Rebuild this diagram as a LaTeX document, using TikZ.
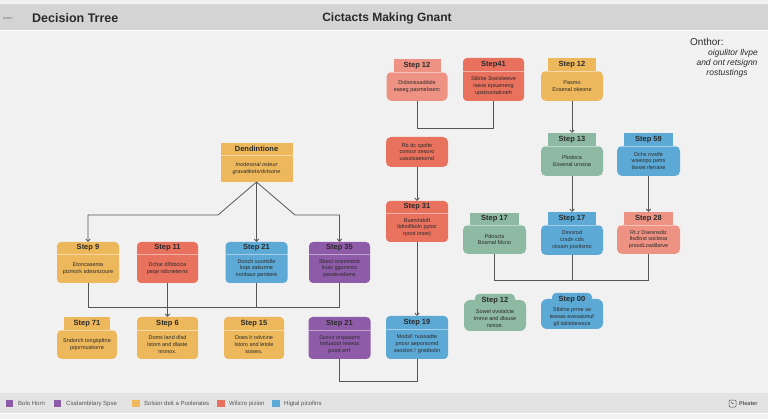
\documentclass[tikz,border=0pt]{standalone}
\usepackage{fontspec}
\setmainfont{Liberation Sans}
\usetikzlibrary{arrows.meta,calc}
\definecolor{bgc}{HTML}{F1F1F1}
\definecolor{hdr}{HTML}{D4D4D4}
\definecolor{ftr}{HTML}{E3E3E3}
\definecolor{cyel}{HTML}{EDB85C}
\definecolor{cred}{HTML}{E8725E}
\definecolor{csal}{HTML}{EE9383}
\definecolor{cblu}{HTML}{5DA9D5}
\definecolor{cpur}{HTML}{8E5BA8}
\definecolor{cgrn}{HTML}{8EB9A2}
\definecolor{lnc}{HTML}{555555}
\definecolor{txc}{HTML}{2A2A2A}

\tikzset{
 titletext/.style={font=\bfseries\fontsize{7.5}{8}\selectfont, text=txc, inner sep=0},
 bodytext/.style={font=\fontsize{5.5}{6.8}\selectfont, text=txc, align=center, inner sep=0},
 sepline/.style={draw=white, draw opacity=0.45, line width=0.6pt},
 conn/.style={draw=lnc, line width=0.8pt},
 arr/.style={-{Straight Barb[length=2.5pt,width=4.5pt]}},
 frame/.style={inner sep=0, outer sep=0},
 legtext/.style={font=\fontsize{6}{7}\selectfont, text=txc!80, anchor=west, inner sep=0},
 legsq/.style={inner sep=0, minimum size=7.5pt},
}

% name, cx, top, w, h, header h, colour, title, body
\newcommand{\FullBox}[9]{%
 \node[frame, fill=#7, rounded corners=4pt, minimum width=#4pt, minimum height=#5pt] (#1) at (#2,{#3+#5/2}) {};
 \draw[sepline] ({#2-#4/2},{#3+#6}) -- ({#2+#4/2},{#3+#6});
 \node[titletext] at (#2,{#3+#6/2}) {#8};
 \node[bodytext] at (#2,{#3+#6+(#5-#6)/2}) {#9};
}
\newcommand{\TabBox}[9]{%
 \node[frame, minimum width=#4pt, minimum height=#5pt] (#1) at (#2,{#3+#5/2}) {};
 \fill[#7] ({#2-#4/2+7},#3) rectangle ({#2+#4/2-7},{#3+#6+4});
 \fill[#7, rounded corners=5pt] ({#2-#4/2},{#3+#6}) rectangle ({#2+#4/2},{#3+#5});
 \draw[sepline] ({#2-#4/2+4},{#3+#6}) -- ({#2+#4/2-4},{#3+#6});
 \node[titletext] at (#2,{#3+#6/2}) {#8};
 \node[bodytext] at (#2,{#3+#6+(#5-#6)/2}) {#9};
}
% name, cx, top, w, h, colour, title, body
\newcommand{\CloudBox}[8]{%
 \node[frame, minimum width=#4pt, minimum height=#5pt] (#1) at (#2,{#3+#5/2}) {};
 \fill[#6, rounded corners=4pt] ({#2-#4/2+11},#3) rectangle ({#2+#4/2-11},{#3+14});
 \fill[#6, rounded corners=6pt] ({#2-#4/2},{#3+6}) rectangle ({#2+#4/2},{#3+#5});
 \node[titletext] at (#2,{#3+7}) {#7};
 \node[bodytext] at (#2,{#3+12+(#5-12)/2}) {#8};
}

\begin{document}
\begin{tikzpicture}[x=1pt, y=-1pt]
\useasboundingbox (0,0) rectangle (768,419);
\fill[bgc] (0,0) rectangle (768,419);

% header bar
\fill[hdr] (0,5) rectangle (768,30);
\draw[white, line width=1pt] (0,31) -- (768,31);
\draw[white!85!black, line width=0.5pt] (0,4.5) -- (768,4.5);
\node[font=\fontsize{3}{3}\selectfont, text=txc!70, anchor=west, inner sep=0] (hdrtag) at (3,18) {BEBRY};
\node[font=\bfseries\fontsize{12.5}{14}\selectfont, text=txc, anchor=west, inner sep=0] (hdrtitle) at (32,18) {Decision Trree};
\node[font=\bfseries\fontsize{12}{13}\selectfont, text=txc, inner sep=0] (hdrmid) at (387,18) {Cictacts Making Gnant};

% note
\node[font=\fontsize{10}{11}\selectfont, text=txc, anchor=west, inner sep=0] (note) at (690,42) {Onthor:};
\node[font=\itshape\fontsize{8.5}{10}\selectfont, text=txc, align=center, inner sep=0] (notebody) at (727,63) {\hspace*{12pt}oigulitor llvpe\\and ont retsignn\\rostustings};

% root
\node[frame, fill=cyel, minimum width=72pt, minimum height=39pt] (root) at (256.5,162.5) {};
\draw[sepline] (220.5,155) -- (292.5,155);
\node[titletext] at (256.5,149) {Dendintione};
\node[bodytext, font=\itshape\fontsize{5.5}{6.8}\selectfont] at (256.5,168.5) {Inodesinal osteur\\gravatiketsrdvtsone};

% row 1
\FullBox{s9}{88}{242}{62}{41}{12}{cyel}{Step 9}{Etoncasenta\\pizmork sdesnizoure}
\FullBox{s11}{167.5}{242}{61}{41}{12}{cred}{Step 11}{Dchar d!lbbcice\\peqe ndoneterns}
\FullBox{s21a}{256.5}{242}{62}{41}{12}{cblu}{Step 21}{Donch vuortslle\\loqe satiurme\\nonbaur pentiere}
\FullBox{s35}{339.5}{242}{61}{41}{12}{cpur}{Step 35}{Sbect rosnimestt\\loiav ggonsros\\pesdeveltens}

% row 2
\TabBox{s71}{87}{317}{60}{42}{13}{cyel}{Step 71}{Sndorch tongiqdtne\\pqormuskorre}
\FullBox{s6}{167.5}{317}{61}{42}{13}{cyel}{Step 6}{Doms land dlsd\\lstom and dlaste\\nronox.}
\FullBox{s15}{254}{317}{60}{42}{13}{cyel}{Step 15}{Does lr odvcine\\lstoro and letole\\soises.}
\FullBox{s21b}{339.5}{317}{62}{42}{13}{cpur}{Step 21}{Suovir orqaaarro\\Inrluaoot reseos\\pood errt}

% middle column
\TabBox{s12a}{417}{59}{61}{42}{13}{csal}{Step 12}{Didionssaddsle\\easeg pasmebserc}
\FullBox{s41}{493.5}{58}{61}{43}{13}{cred}{Step41}{Stibbe 3oeistieeve\\iseoe epiueneng\\upstzootalcoeh}
\node[frame, fill=cred, rounded corners=5pt, minimum width=62pt, minimum height=30pt] (rb) at (417,152) {};
\node[bodytext] at (rb) {Rb dc cpolte\\conoor zesoro\\uasstsaetornd};
\FullBox{s31}{417}{201}{62}{41}{12}{cred}{Step 31}{Buenindoft\\ltdnollboln pytoc\\rpoot imoe)}
\FullBox{s19}{417}{316}{62}{43}{13}{cblu}{Step 19}{Modsl! nussadte\\pnosr aeporsomd\\ssoston ! gnstbotin}

% right columns
\TabBox{s12b}{572}{58}{62}{43}{13}{cyel}{Step 12}{Pasmo\\Exsenal okeone}
\TabBox{s13}{572}{133}{62}{43}{13}{cgrn}{Step 13}{Plodoca\\Exsenal urosna}
\TabBox{s59}{648.5}{133}{63}{43}{13}{cblu}{Step 59}{Dchs nvstfe\\wseiopo petrs\\tiwset rlenane}
\TabBox{s17a}{494.5}{213}{63}{41}{12}{cgrn}{Step 17}{Pdoscts\\Bosmal Mcno}
\TabBox{s17b}{572}{212}{62}{43}{13}{cblu}{Step 17}{Dsvsrod\\crsdn cds\\cksam povtlsmo}
\TabBox{s28}{648.5}{212}{63}{42}{13}{csal}{Step 28}{Rt.z Dsesnsdiz\\Ilsdlost socleoa\\prsodLoadibeve}
\CloudBox{s12c}{495}{294}{62}{37}{cgrn}{Step 12}{Sowel ovolalcte\\tmroe and dlouse\\rsnioe.}
\CloudBox{s00}{572}{293}{62}{36}{cblu}{Step 00}{Stbilne prme se\\leesas evesasmuf\\gil italisbewsca}

% connectors: left tree
\coordinate (j1) at (218,215);
\coordinate (j2) at (295,215);
\draw[conn, arr] (root.south) -- (j1) -| (s9.north);
\draw[conn, arr] (root.south) -- (s21a.north);
\draw[conn, arr] (root.south) -- (j2) -| (s35.north);
\coordinate (b1) at (88,307);
\coordinate (b2) at (339.5,307);
\draw[conn] (s9.south) -- (b1) -- (b2) -- (s35.south);
\draw[conn] (s21a.south) -- (s21a.south |- b1);
\draw[conn, arr] (s11.south) -- (s6.north);
\coordinate (u1) at (339.5,381);
\draw[conn] (s21b.south) -- (u1) -| (s19.south);

% connectors: middle
\coordinate (u2) at (417,128);
\draw[conn] (s12a.south) -- (u2) -| (s41.south);
\draw[conn, arr] (rb.south) -- (s31.north);
\draw[conn, arr] (s31.south) -- (s19.north);

% connectors: right
\draw[conn, arr] (s12b.south) -- (s13.north);
\draw[conn, arr] (s13.south) -- (s17b.north);
\draw[conn, arr] (s59.south) -- (s28.north);
\coordinate (u3) at (494.5,280);
\draw[conn] (s17a.south) -- (u3) -| (s28.south);
\draw[conn] (s17b.south) -- (s17b.south |- u3);

% footer legend
\fill[ftr] (0,393) rectangle (768,413);
\draw[white, line width=0.8pt] (0,413.5) -- (768,413.5);
\node[legsq, fill=cpur] (lg1) at (9.5,403.5) {};
\node[legtext] (lt1) at (18,403.5) {Bolo Horn};
\node[legsq, fill=cpur] (lg2) at (57.5,403.5) {};
\node[legtext] (lt2) at (66,403.5) {Ciudambitary Spse};
\node[legsq, fill=cyel] (lg3) at (136,403.5) {};
\node[legtext] (lt3) at (144,403.5) {Solsior deit a Poolerates};
\node[legsq, fill=cred] (lg4) at (221,403.5) {};
\node[legtext] (lt4) at (229,403.5) {Wilicro pizion};
\node[legsq, fill=cblu] (lg5) at (276,403.5) {};
\node[legtext] (lt5) at (284,403.5) {Higtal picofins};
\node[draw=txc!80, line width=0.5pt, rounded corners=1pt, minimum size=7pt, inner sep=0] (icon) at (732.5,403.5) {};
\draw[txc!80, line width=0.4pt] (731,402) -- (733,404) -- (734,403.5);
\node[legtext, font=\bfseries\fontsize{5.5}{6}\selectfont] (lt6) at (739,403.5) {Pleater};
\end{tikzpicture}
\end{document}
